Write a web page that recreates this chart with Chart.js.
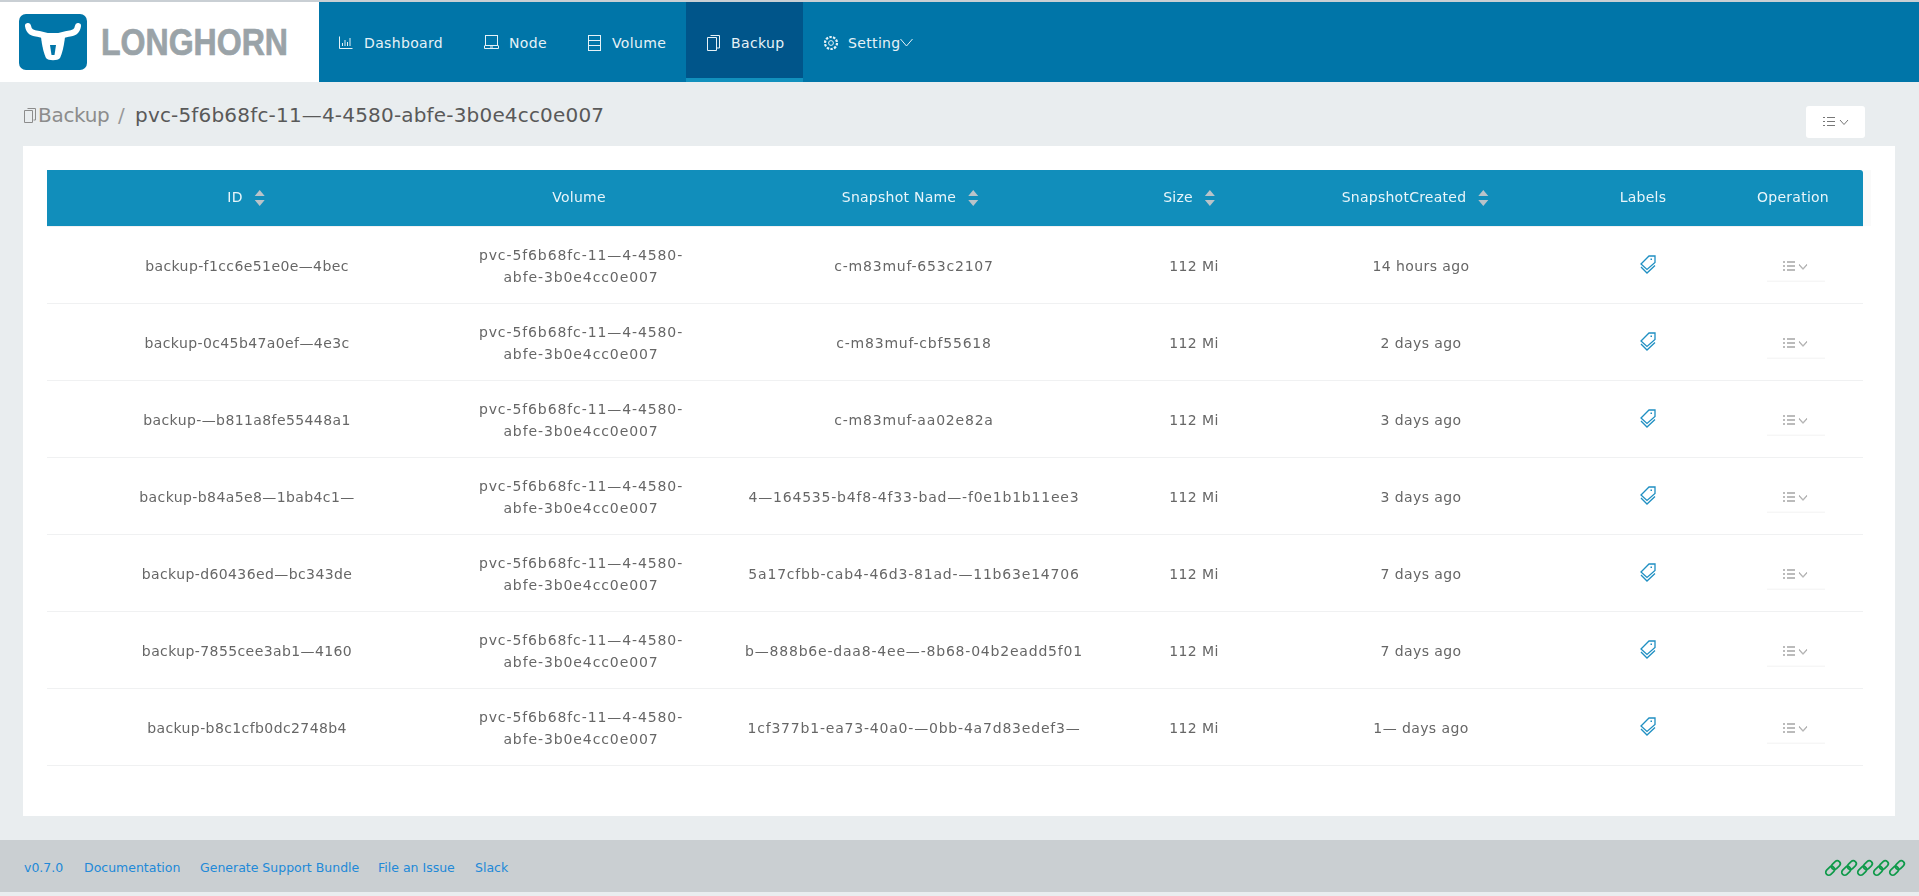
<!DOCTYPE html>
<html>
<head>
<meta charset="utf-8">
<title>Longhorn Backup</title>
<script src="https://cdn.jsdelivr.net/npm/chart.js@4/dist/chart.umd.min.js"></script>
<style>
  html, body { margin: 0; padding: 0; width: 1919px; height: 896px; overflow: hidden; background: #e9edef; font-family: "DejaVu Sans", sans-serif; }
  .abs { position: absolute; }
  .topline { left: 0; top: 0; width: 1919px; height: 2px; background: #c9cfd4; }
  .logo-box { left: 0; top: 2px; width: 319px; height: 80px; background: #fff; }
  .nav { left: 319px; top: 2px; width: 1600px; height: 80px; background: #0075a8; }
  .nav-active { left: 686px; top: 2px; width: 117px; height: 76px; background: #00558a; border-bottom: 4px solid #1190bd; }
  .nav-text { top: 33px; font-size: 14px; line-height: 20px; letter-spacing: .35px; color: #e6f2f7; white-space: nowrap; }
  .crumb { top: 101px; font-size: 20px; line-height: 28px; white-space: nowrap; }
  .card { left: 23px; top: 146px; width: 1872px; height: 670px; background: #fff; }
  .thead { left: 47px; top: 170px; width: 1816px; height: 56px; background: #118ebb; border-top-right-radius: 3px; }
  .thead-rest { left: 1863px; top: 170px; width: 8px; height: 56px; background: #fafafa; }
  .menu-btn { left: 1806px; top: 106px; width: 59px; height: 32px; background: #fff; border-radius: 3px; }
  .footer { left: 0; top: 840px; width: 1919px; height: 52px; background: #cacfd2; }
  .foot-link { top: 859px; font-size: 12.5px; line-height: 18px; color: #2189d8; white-space: nowrap; }
  #table-chart { position: absolute; left: 47px; top: 170px; }
  svg { position: absolute; overflow: visible; }
</style>
</head>
<body>
<div class="abs topline"></div>
<div class="abs logo-box"></div>
<div class="abs nav"></div>
<div class="abs nav-active"></div>

<!-- logo -->
<svg style="left:19px;top:14px" width="68" height="56" viewBox="0 0 68 56">
  <rect width="68" height="56" rx="7" fill="#0075a8"/>
  <path d="M9 12 C10 18 13 19 20 20 L28 22 L40 22 L48 20 C55 19 58 18 59 12" fill="none" stroke="#fff" stroke-width="6" stroke-linecap="round" stroke-linejoin="round"/>
  <path d="M22 23 L46 23 C45 32 43 40 41 44 C39 47 29 47 27 44 C25 40 23 32 22 23Z" fill="#fff"/>
  <path d="M31 31 L37 31 L35.5 41 L32.5 41Z" fill="#0075a8"/>
</svg>
<svg style="left:101px;top:26px" width="188" height="32">
  <text x="0" y="29" font-family="Liberation Sans" font-weight="700" font-size="36" fill="#9aa3a8" stroke="#9aa3a8" stroke-width=".7" textLength="187" lengthAdjust="spacingAndGlyphs">LONGHORN</text>
</svg>

<!-- nav icons -->
<svg style="left:339px;top:36px" width="14" height="14" fill="none" stroke="#e6f2f7" stroke-width="1"><path d="M0.5 0.5V12.5H13.5M3.5 10V7M6 10V4M8.5 10V6M11 10V2"/></svg>
<svg style="left:484px;top:35px" width="15" height="15" fill="none" stroke="#e6f2f7" stroke-width="1"><rect x="1.5" y="0.5" width="12" height="10"/><path d="M0.5 10.5V13.5H14.5V10.5M6 12H9"/></svg>
<svg style="left:588px;top:35px" width="13" height="16" fill="none" stroke="#e6f2f7" stroke-width="1"><rect x="0.5" y="0.5" width="12" height="15"/><path d="M0.5 5.5H12.5M0.5 10.5H12.5"/></svg>
<svg style="left:707px;top:35px" width="13" height="16" fill="none" stroke="#e6f2f7" stroke-width="1"><path d="M3.5 0.5H12.5V13H10M0.5 2.5H9.5V15.5H0.5Z"/></svg>
<svg style="left:823px;top:35px" width="16" height="16" fill="none" stroke="#e6f2f7" stroke-width="1"><circle cx="8" cy="8" r="2.4"/><circle cx="8" cy="8" r="6" stroke-width="2.2" stroke-dasharray="2.4 1.3"/></svg>
<svg style="left:900px;top:38px" width="13" height="9" fill="none" stroke="#e6f2f7" stroke-width="1"><path d="M0.5 1L6.5 8L12.5 1"/></svg>

<div class="abs nav-text" style="left:364px">Dashboard</div>
<div class="abs nav-text" style="left:509px">Node</div>
<div class="abs nav-text" style="left:612px">Volume</div>
<div class="abs nav-text" style="left:731px">Backup</div>
<div class="abs nav-text" style="left:848px">Setting</div>

<!-- breadcrumb -->
<svg style="left:24px;top:108px" width="12" height="15" fill="none" stroke="#8c8c8c" stroke-width="1"><path d="M3.5 0.5H11.5V12H9.5M0.5 2.5H8.5V14.5H0.5Z"/></svg>
<div class="abs crumb" style="left:38px;color:#8c8c8c;letter-spacing:-.3px">Backup</div>
<div class="abs crumb" style="left:118px;color:#999">/</div>
<div class="abs crumb" style="left:135px;color:#595959;letter-spacing:.18px">pvc-5f6b68fc-11—4-4580-abfe-3b0e4cc0e007</div>

<div class="abs menu-btn"></div>
<svg style="left:1822px;top:116px" width="28" height="12" fill="none" stroke="#777" stroke-width="1"><path d="M5 1.5H13M5 5.5H13M5 9.5H13M1 1.5H3M1 5.5H3M1 9.5H3M18 4L22 8.5L26 4"/></svg>

<div class="abs card"></div>
<div class="abs thead-rest"></div>
<div class="abs thead"></div>
<canvas id="table-chart" width="1816" height="596"></canvas>

<div class="abs footer"></div>
<div class="abs foot-link" style="left:24px">v0.7.0</div>
<div class="abs foot-link" style="left:84px">Documentation</div>
<div class="abs foot-link" style="left:200px">Generate Support Bundle</div>
<div class="abs foot-link" style="left:378px">File an Issue</div>
<div class="abs foot-link" style="left:475px">Slack</div>
<svg style="left:1825px;top:860px" width="80" height="16" fill="none" stroke="#0f9a4a" stroke-width="1.7">
  <g id="lnk" transform="rotate(-45 8 8)"><rect x="-1" y="5" width="10" height="6" rx="3"/><rect x="7" y="5" width="10" height="6" rx="3"/></g>
  <use href="#lnk" x="16"/><use href="#lnk" x="32"/><use href="#lnk" x="48"/><use href="#lnk" x="64"/>
</svg>

<script>
// Datos de la tabla
const backupIds = [
  'backup-f1cc6e51e0e—4bec',
  'backup-0c45b47a0ef—4e3c',
  'backup-—b811a8fe55448a1',
  'backup-b84a5e8—1bab4c1—',
  'backup-d60436ed—bc343de',
  'backup-7855cee3ab1—4160',
  'backup-b8c1cfb0dc2748b4'
];
const volumeNames = [
  'pvc-5f6b68fc-11—4-4580-\nabfe-3b0e4cc0e007',
  'pvc-5f6b68fc-11—4-4580-\nabfe-3b0e4cc0e007',
  'pvc-5f6b68fc-11—4-4580-\nabfe-3b0e4cc0e007',
  'pvc-5f6b68fc-11—4-4580-\nabfe-3b0e4cc0e007',
  'pvc-5f6b68fc-11—4-4580-\nabfe-3b0e4cc0e007',
  'pvc-5f6b68fc-11—4-4580-\nabfe-3b0e4cc0e007',
  'pvc-5f6b68fc-11—4-4580-\nabfe-3b0e4cc0e007'
];
const snapshotNames = [
  'c-m83muf-653c2107',
  'c-m83muf-cbf55618',
  'c-m83muf-aa02e82a',
  '4—164535-b4f8-4f33-bad—-f0e1b1b11ee3',
  '5a17cfbb-cab4-46d3-81ad-—11b63e14706',
  'b—888b6e-daa8-4ee—-8b68-04b2eadd5f01',
  '1cf377b1-ea73-40a0-—0bb-4a7d83edef3—'
];
const sizesMi = [112, 112, 112, 112, 112, 112, 112];
const snapshotCreated = ['14 hours ago', '2 days ago', '3 days ago', '3 days ago', '7 days ago', '7 days ago', '1— days ago'];
const headerNames = ['ID', 'Volume', 'Snapshot Name', 'Size', 'SnapshotCreated', 'Labels', 'Operation'];
const headerSortable = [true, false, true, true, true, false, false];

// Posicion de columnas en la escala x
const headerX = [235, 579, 899, 1178, 1404, 1643, 1793];
const cellX = { id: 247, volume: 581, snapshot: 914, size: 1194, created: 1421, labels: 1648, operation: 1796 };

const cellPoints = (x, texts) => backupIds.map((id, i) => ({ x: x, y: id, text: String(texts[i]) }));

// Iconos de las filas
function tagIcon() {
  const c = document.createElement('canvas');
  c.width = 16; c.height = 19;
  const g = c.getContext('2d');
  g.strokeStyle = '#1f8fc2'; g.lineWidth = 1.3;
  g.beginPath();
  g.moveTo(15, 1); g.lineTo(9, 1); g.lineTo(1, 9); g.lineTo(7, 14.5); g.lineTo(15, 7.5); g.closePath();
  g.moveTo(1, 12); g.lineTo(7, 18); g.lineTo(15, 10.5);
  g.stroke();
  g.fillStyle = '#1f8fc2';
  g.fillRect(10.5, 3.5, 1.5, 1.5);
  return c;
}
function operationIcon() {
  const c = document.createElement('canvas');
  c.width = 58; c.height = 34;
  const g = c.getContext('2d');
  g.fillStyle = '#f6f6f6';
  g.fillRect(0, 33, 58, 1);
  g.strokeStyle = '#777'; g.lineWidth = 1;
  g.beginPath();
  [14.5, 18.5, 22.5].forEach(y => {
    g.moveTo(20, y); g.lineTo(28, y);
    g.moveTo(16, y); g.lineTo(18, y);
  });
  g.moveTo(32, 17); g.lineTo(36, 21.5); g.lineTo(40, 17);
  g.stroke();
  return c;
}

// Texto de las celdas y flechas de orden
const tablePlugin = {
  id: 'tableText',
  beforeDraw(chart) {
    chart.ctx.letterSpacing = '0.25px';
  },
  afterDatasetsDraw(chart) {
    const ctx = chart.ctx;
    ctx.save();
    ctx.font = '14px "DejaVu Sans"';
    ctx.textAlign = 'center';
    ctx.textBaseline = 'middle';
    // flechas
    const xs = chart.scales.x;
    ctx.fillStyle = '#b9c3c9';
    headerNames.forEach((name, i) => {
      if (!headerSortable[i]) return;
      const cx = xs.getPixelForValue(headerX[i]) + ctx.measureText(name).width / 2 + 17;
      const top = 20;
      ctx.beginPath();
      ctx.moveTo(cx - 5, top + 6); ctx.lineTo(cx, top); ctx.lineTo(cx + 5, top + 6); ctx.closePath();
      ctx.moveTo(cx - 5, top + 10); ctx.lineTo(cx + 5, top + 10); ctx.lineTo(cx, top + 16); ctx.closePath();
      ctx.fill();
    });
    // celdas
    ctx.fillStyle = '#666';
    chart.data.datasets.forEach((ds, d) => {
      ctx.letterSpacing = (ds.textSpacing || 0) + 'px';
      chart.getDatasetMeta(d).data.forEach((pt, i) => {
        const text = ds.data[i].text;
        if (!text) return;
        const lines = text.split('\n');
        lines.forEach((line, l) => {
          ctx.fillText(line, pt.x, pt.y + 2.5 + (l - (lines.length - 1) / 2) * 22);
        });
      });
    });
    ctx.restore();
  }
};

new Chart(document.getElementById('table-chart'), {
  type: 'scatter',
  data: {
    labels: backupIds,
    datasets: [
      { label: 'ID', data: cellPoints(cellX.id, backupIds), pointRadius: 0, textSpacing: 0.4 },
      { label: 'Volume', data: cellPoints(cellX.volume, volumeNames), pointRadius: 0, textSpacing: 0.9 },
      { label: 'Snapshot Name', data: cellPoints(cellX.snapshot, snapshotNames), pointRadius: 0, textSpacing: 0.8 },
      { label: 'Size', data: cellPoints(cellX.size, sizesMi.map(v => v + ' Mi')), pointRadius: 0, textSpacing: 0.4 },
      { label: 'SnapshotCreated', data: cellPoints(cellX.created, snapshotCreated), pointRadius: 0, textSpacing: 0.4 },
      { label: 'Labels', data: cellPoints(cellX.labels, backupIds.map(() => '')), pointStyle: tagIcon(), pointRadius: 8 },
      { label: 'Operation', data: cellPoints(cellX.operation, backupIds.map(() => '')), pointStyle: operationIcon(), pointRadius: 8 }
    ]
  },
  plugins: [tablePlugin],
  options: {
    responsive: false,
    animation: false,
    events: [],
    layout: { autoPadding: false, padding: { bottom: 1 } },
    plugins: { legend: { display: false }, tooltip: { enabled: false } },
    scales: {
      x: {
        type: 'linear',
        position: 'top',
        min: 47,
        max: 1863,
        grid: { display: false, drawTicks: false },
        border: { display: false },
        afterBuildTicks: axis => { axis.ticks = headerX.map(v => ({ value: v })); },
        afterFit: axis => { axis.height = 56; },
        ticks: {
          autoSkip: false,
          maxRotation: 0,
          padding: 19,
          color: '#e8f5fa',
          font: { family: 'DejaVu Sans', size: 14 },
          callback: (value, i) => headerNames[i]
        }
      },
      y: {
        type: 'category',
        labels: backupIds,
        offset: true,
        grid: { color: '#f0f1f2', offset: true, drawTicks: false },
        border: { display: false },
        afterFit: axis => { axis.width = 0; },
        ticks: { display: false }
      }
    }
  }
});
</script>
</body>
</html>
